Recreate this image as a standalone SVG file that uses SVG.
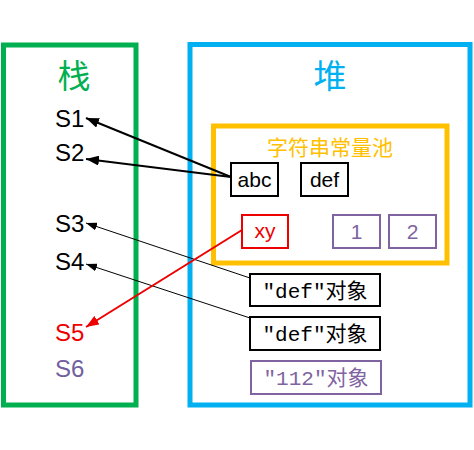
<svg xmlns="http://www.w3.org/2000/svg" width="474" height="450" viewBox="0 0 474 450">
<style>
.lat{font-family:"Liberation Sans","Noto Sans CJK SC",sans-serif}
.cjk{font-family:"Noto Sans CJK SC","Liberation Sans",sans-serif}
.mono{font-family:"Liberation Mono","Noto Sans CJK SC",monospace}
.box{fill:#fff;stroke:#000;stroke-width:2}
.pbox{fill:#fff;stroke:#8064a2;stroke-width:2}
</style>
<defs>
<marker id="ah" markerUnits="userSpaceOnUse" markerWidth="14" markerHeight="10" refX="13" refY="5" orient="auto"><path d="M0,0 L13,5 L0,10 z" fill="#000"/></marker>
<marker id="ahs" markerUnits="userSpaceOnUse" markerWidth="12" markerHeight="8" refX="11" refY="4" orient="auto"><path d="M0,0 L11,4 L0,8 z" fill="#000"/></marker>
<marker id="ahr" markerUnits="userSpaceOnUse" markerWidth="14" markerHeight="10" refX="13" refY="5" orient="auto"><path d="M0,0 L13,5 L0,10 z" fill="#e00"/></marker>
</defs>
<rect width="474" height="450" fill="#fff"/>
<g id="stack">
<rect x="3.5" y="45" width="132.5" height="360" fill="none" stroke="#00b050" stroke-width="5"/>
<text x="74" y="88" class="cjk" font-size="33" fill="#00b050" text-anchor="middle">栈</text>
<text x="55" y="127" class="lat" font-size="24" fill="#000">S1</text>
<text x="55" y="161" class="lat" font-size="24" fill="#000">S2</text>
<text x="55" y="232" class="lat" font-size="24" fill="#000">S3</text>
<text x="55" y="270" class="lat" font-size="24" fill="#000">S4</text>
<text x="55" y="341" class="lat" font-size="24" fill="#e00">S5</text>
<text x="55" y="377" class="lat" font-size="24" fill="#7060a0">S6</text>
</g>
<g id="heap">
<rect x="190" y="44.5" width="280" height="360.5" fill="none" stroke="#00b0f0" stroke-width="5"/>
<text x="330" y="88" class="cjk" font-size="33" fill="#00b0f0" text-anchor="middle">堆</text>
</g>
<g id="pool">
<rect x="213.5" y="126" width="233.5" height="137" fill="none" stroke="#ffc000" stroke-width="5"/>
<text x="330" y="155" class="cjk" font-size="21" fill="#ffc000" text-anchor="middle">字符串常量池</text>
</g>
<g id="abc"><rect x="231" y="163" width="47" height="33" class="box"/><text x="254.5" y="187" class="lat" font-size="21" text-anchor="middle">abc</text></g>
<g id="def"><rect x="301" y="163" width="47" height="33" class="box"/><text x="324.5" y="187" class="lat" font-size="21" text-anchor="middle">def</text></g>
<g id="xy"><rect x="242" y="215" width="46" height="33" fill="#fff" stroke="#e00" stroke-width="2"/><text x="265" y="238" class="lat" font-size="21" fill="#e00" text-anchor="middle">xy</text></g>
<g id="n1"><rect x="333" y="215" width="47" height="33" class="pbox"/><text x="356.5" y="239" class="lat" font-size="21" fill="#8064a2" text-anchor="middle">1</text></g>
<g id="n2"><rect x="389" y="215" width="47" height="33" class="pbox"/><text x="412.5" y="239" class="lat" font-size="21" fill="#8064a2" text-anchor="middle">2</text></g>
<g id="obj1"><rect x="250" y="274" width="130" height="32" class="box"/><text x="315" y="298" class="mono" font-size="21" text-anchor="middle">"def"对象</text></g>
<g id="obj2"><rect x="250" y="317" width="130" height="33" class="box"/><text x="315" y="341" class="mono" font-size="21" text-anchor="middle">"def"对象</text></g>
<g id="obj3"><rect x="251" y="361" width="130" height="33" class="pbox"/><text x="316" y="385" class="mono" font-size="21" fill="#8064a2" text-anchor="middle">"112"对象</text></g>
<g id="connectors" fill="none">
<line x1="231" y1="177" x2="86" y2="118" stroke="#000" stroke-width="2" marker-end="url(#ah)"/>
<line x1="231" y1="177" x2="86" y2="159" stroke="#000" stroke-width="2" marker-end="url(#ah)"/>
<line x1="250" y1="278" x2="86" y2="223" stroke="#000" stroke-width="1" marker-end="url(#ahs)"/>
<line x1="250" y1="318" x2="86" y2="264" stroke="#000" stroke-width="1" marker-end="url(#ahs)"/>
<line x1="242" y1="230" x2="86" y2="327" stroke="#e00" stroke-width="2" marker-end="url(#ahr)"/>
</g>
</svg>
